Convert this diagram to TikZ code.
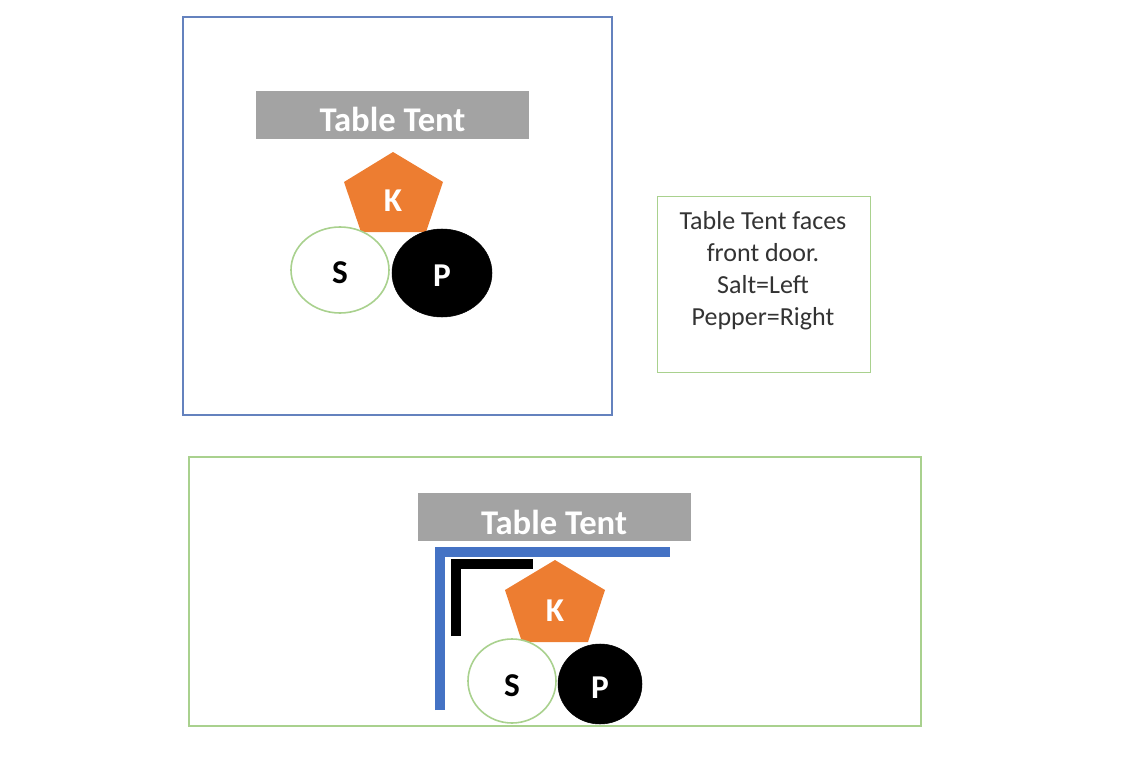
\documentclass[tikz,border=0pt]{standalone}
\usepackage{fontspec}
\setmainfont{Carlito}
\definecolor{tentgray}{RGB}{163,163,163}
\definecolor{korange}{RGB}{237,125,49}
\definecolor{sgreen}{RGB}{169,209,142}
\definecolor{boxblue}{RGB}{100,130,190}
\definecolor{lblue}{RGB}{68,114,196}
\begin{document}
\begin{tikzpicture}[x=0.75pt,y=-0.75pt,
  tent/.style={fill=tentgray,draw=none,minimum width=273*0.75pt,minimum height=48*0.75pt,inner sep=0pt},
  tenttext/.style={text=white,font=\fontsize{26}{28}\selectfont\bfseries,inner sep=0pt},
  kpent/.style={fill=korange,draw=none},
  lbl/.style={font=\fontsize{25}{27}\selectfont\bfseries,inner sep=0pt},
  salt/.style={draw=sgreen,line width=1.2pt,fill=white},
  pepper/.style={fill=black,draw=black},
  frame/.style={line width=1pt},
  note/.style={draw=sgreen,line width=1pt,minimum width=213*0.75pt,minimum height=176*0.75pt}
]
\useasboundingbox (0,0) rectangle (1140,778);
% top frame
\draw[frame,draw=boxblue] (183,17) rectangle (612,415);
\node[tent] (tent1) at (392.5,115) {};
\node[tenttext] (tent1t) at (392.5,119) {Table Tent};
\fill[kpent] (393,152) -- (443,182) -- (426,232) -- (361,232) -- (344,182) -- cycle;
\node[lbl,text=white] (k1) at (393,201) {K};
\draw[salt] (340,270) ellipse [x radius=49, y radius=43];
\node[lbl] (s1) at (340,273) {S};
\draw[pepper] (442,273) ellipse [x radius=50, y radius=44];
\node[lbl,text=white] (p1) at (442,276) {P};
% note
\node[note,anchor=north west] (note) at (657,196) {};
\node[anchor=north,align=center,font=\fontsize{19.5}{24}\selectfont,text=black!80,inner sep=0pt] (notetext) at (763,211) {Table Tent faces\\front door.\\Salt=Left\\Pepper=Right};
% bottom frame
\draw[frame,draw=sgreen] (189,457) rectangle (921,726);
\node[tent] (tent2) at (554,517) {};
\node[tenttext] (tent2t) at (554,522) {Table Tent};
\draw[lblue,line width=7.5pt] (440,710) -- (440,552) -- (670,552);
\draw[black,line width=8pt] (456,636) -- (456,564) -- (533,564);
\fill[kpent] (555,560) -- (605,590) -- (588,642) -- (522,642) -- (505,590) -- cycle;
\node[lbl,text=white] (k2) at (555,611) {K};
\draw[salt] (512,681) ellipse [x radius=44, y radius=42];
\node[lbl] (s2) at (512,686) {S};
\draw[pepper] (600,684) ellipse [x radius=42, y radius=40];
\node[lbl,text=white] (p2) at (600,688) {P};
\end{tikzpicture}
\end{document}
